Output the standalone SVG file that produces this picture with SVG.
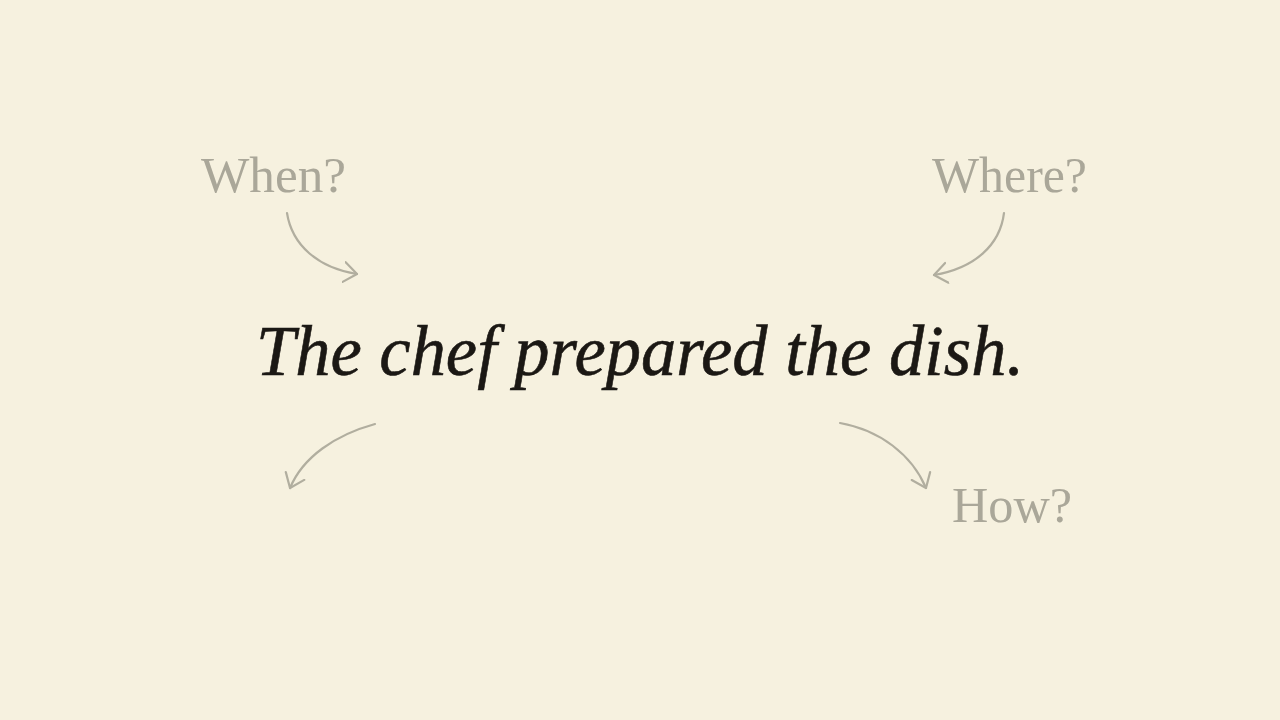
<svg xmlns="http://www.w3.org/2000/svg" width="1280" height="720" viewBox="0 0 1280 720">
<style>
.bg{fill:#f6f1df}
.main{font-family:"Liberation Serif","Times New Roman",serif;font-style:italic;font-size:72px;fill:#1b1814;stroke:#1b1814;stroke-width:0.6}
.q{font-family:"Liberation Serif","Times New Roman",serif;font-size:50px;fill:#aaa799}
.arrow{fill:none;stroke:#b1ae9f;stroke-width:2.2;stroke-linecap:round;marker-end:url(#head)}
</style>
<defs>
<marker id="head" markerWidth="22" markerHeight="24" refX="14" refY="11" orient="auto" markerUnits="userSpaceOnUse" viewBox="0 0 22 22">
<path d="M1 1 L14 11 L1 21" fill="none" stroke="#b1ae9f" stroke-width="2.2" stroke-linecap="round" stroke-linejoin="round"/>
</marker>
</defs>
<rect class="bg" x="0" y="0" width="1280" height="720"/>
<g id="sentence">
<text class="main" x="640" y="375" text-anchor="middle" textLength="768" lengthAdjust="spacingAndGlyphs">The chef prepared the dish.</text>
</g>
<g id="when">
<text class="q" x="201" y="192" textLength="145" lengthAdjust="spacingAndGlyphs">When?</text>
</g>
<g id="where">
<text class="q" x="932" y="192" textLength="155" lengthAdjust="spacingAndGlyphs">Where?</text>
</g>
<g id="how">
<text class="q" x="952" y="522" textLength="120" lengthAdjust="spacingAndGlyphs">How?</text>
</g>
<g id="connectors">
<path class="arrow" d="M287 213 C 292 245, 318 268, 357 274"/>
<path class="arrow" d="M1004 213 C 1000 245, 975 268, 934 275"/>
<path class="arrow" d="M375 424 C 335 435, 303 457, 290 488"/>
<path class="arrow" d="M840 423 C 880 430, 912 455, 926 488"/>
</g>
</svg>
